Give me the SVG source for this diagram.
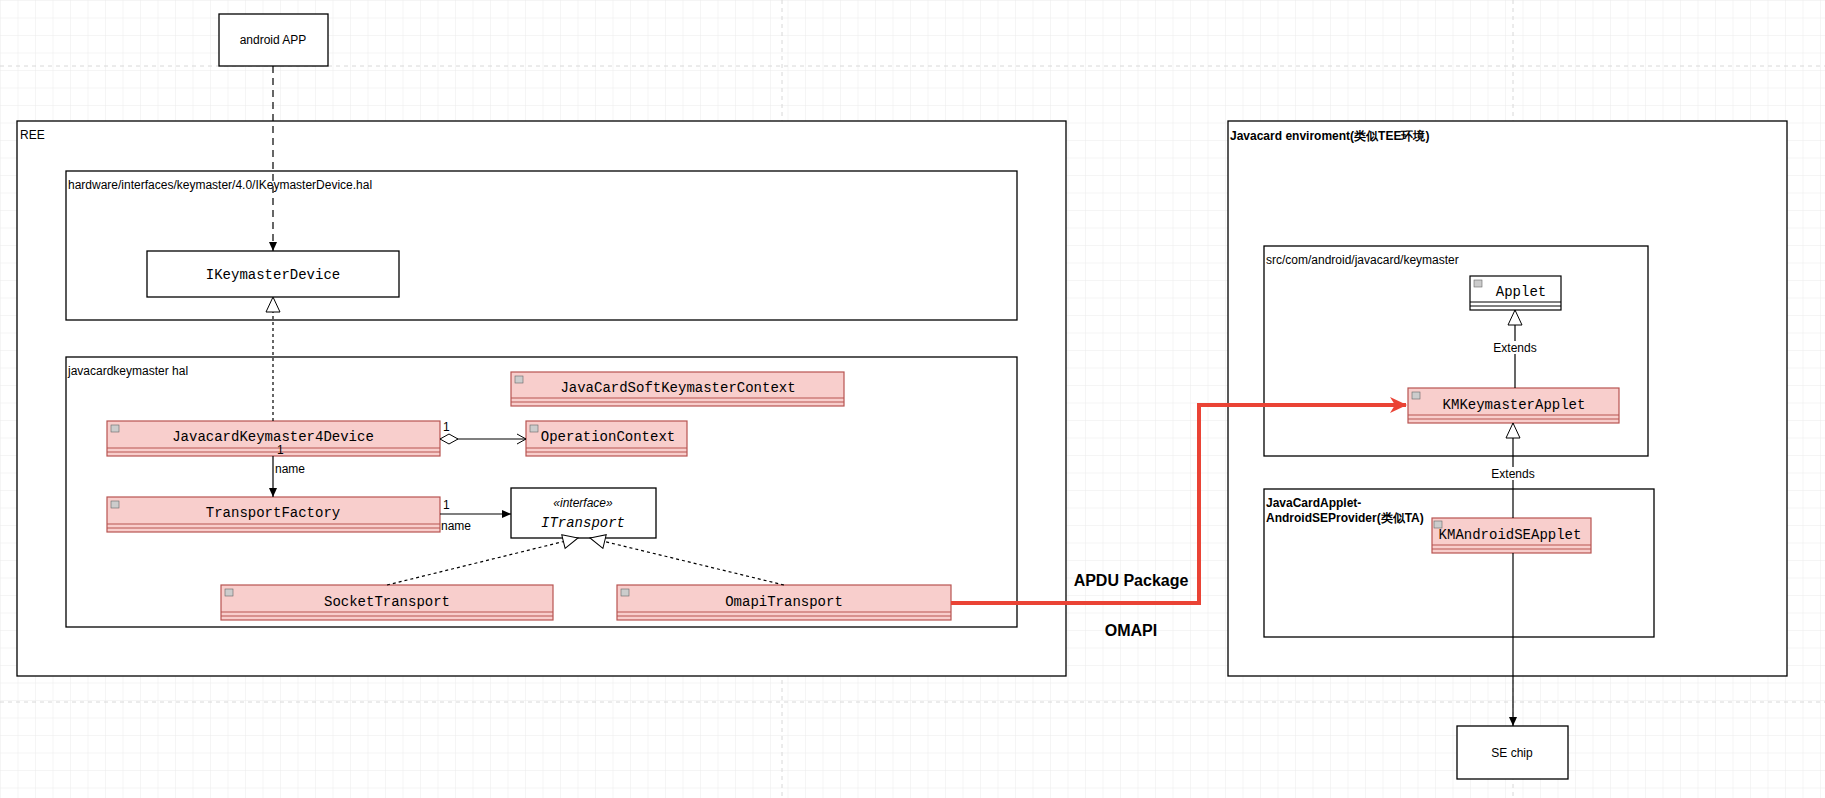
<svg xmlns="http://www.w3.org/2000/svg" width="1825" height="798" viewBox="0 0 1825 798">
<defs>
<pattern id="g" width="17.5" height="17.5" patternUnits="userSpaceOnUse"><path d="M17.5 0H0V17.5" fill="none" stroke="#ececec" stroke-width="1"/></pattern>
<marker id="open" markerWidth="12" markerHeight="12" refX="10" refY="6" orient="auto" markerUnits="userSpaceOnUse"><path d="M1 1L10 6L1 11" fill="none" stroke="#000"/></marker>
<marker id="fill" markerWidth="12" markerHeight="12" refX="10" refY="6" orient="auto" markerUnits="userSpaceOnUse"><path d="M1 2L10 6L1 10Z" fill="#000"/></marker>
<marker id="tri" markerWidth="18" markerHeight="18" refX="16" refY="8" orient="auto" markerUnits="userSpaceOnUse"><path d="M1 1L16 8L1 15Z" fill="#fff" stroke="#000"/></marker>
<marker id="dia" markerWidth="22" markerHeight="12" refX="1" refY="6" orient="auto" markerUnits="userSpaceOnUse"><path d="M1 6L10 1L19 6L10 11Z" fill="#fff" stroke="#000"/></marker>
<marker id="red" markerWidth="20" markerHeight="20" refX="16" refY="9" orient="auto" markerUnits="userSpaceOnUse"><path d="M0 1L17 9L0 17L5 9Z" fill="#ea4335"/></marker>
</defs>
<style>
.box{fill:#fff;stroke:#000;stroke-width:1.3}
.cls{fill:#f8cecc;stroke:#b85450;stroke-width:1.2}
.ln{stroke:#b85450;stroke-width:1.2}
.t{font-family:"Liberation Sans",Arial,sans-serif;font-size:12px;fill:#000}
.m{font-family:"Liberation Mono","DejaVu Sans Mono",monospace;font-size:14px;fill:#000;text-anchor:middle}
.c{stroke:#000;fill:none;stroke-width:1.2}
.b{font-family:"Liberation Sans",Arial,sans-serif;font-size:16px;font-weight:bold;text-anchor:middle}
</style>
<rect width="1825" height="798" fill="#fff"/>
<rect width="1825" height="798" fill="url(#g)"/>
<g stroke="#d8d8d8" stroke-dasharray="4 4" fill="none"><path d="M782 0V798M1513 0V798M0 66H1825M0 702H1825"/></g>

<g id="ree"><rect class="box" x="17" y="121" width="1049" height="555"/><text class="t" x="20" y="139">REE</text></g>
<g id="hw"><rect class="box" x="66" y="171" width="951" height="149"/><text class="t" x="68" y="189">hardware/interfaces/keymaster/4.0/IKeymasterDevice.hal</text></g>
<g id="hal"><rect class="box" x="66" y="357" width="951" height="270"/><text class="t" x="68" y="375">javacardkeymaster hal</text></g>
<g id="env"><rect class="box" x="1228" y="121" width="559" height="555"/><text class="t" x="1230" y="140" font-weight="bold" font-family="'Liberation Sans','Noto Sans CJK SC',sans-serif">Javacard enviroment(类似TEE环境)</text></g>
<g id="src"><rect class="box" x="1264" y="246" width="384" height="210"/><text class="t" x="1266" y="264">src/com/android/javacard/keymaster</text></g>
<g id="ta"><rect class="box" x="1264" y="489" width="390" height="148"/><text class="t" x="1266" y="507" font-weight="bold" font-family="'Liberation Sans','Noto Sans CJK SC',sans-serif">JavaCardApplet-</text><text class="t" x="1266" y="522" font-weight="bold" font-family="'Liberation Sans','Noto Sans CJK SC',sans-serif">AndroidSEProvider(类似TA)</text></g>

<g id="app"><rect class="box" x="219" y="14" width="109" height="52"/><text class="t" x="273" y="44" text-anchor="middle">android APP</text></g>
<g id="ikd"><rect class="box" x="147" y="251" width="252" height="46"/><text class="m" x="273" y="279">IKeymasterDevice</text></g>
<g id="se"><rect class="box" x="1457" y="726" width="111" height="53"/><text class="t" x="1512" y="757" text-anchor="middle">SE chip</text></g>
<g id="itr"><rect class="box" x="511" y="488" width="145" height="50"/><text class="t" x="583" y="507" text-anchor="middle" font-style="italic" font-size="10">«interface»</text><text class="m" x="583" y="527" font-style="italic">ITransport</text></g>

<g id="soft"><rect class="cls" x="511" y="372" width="333" height="34"/><path class="ln" d="M511 398H844M511 402H844"/><rect x="515" y="376" width="8" height="7" fill="#ccc" stroke="#666" stroke-width=".6"/><text class="m" x="678" y="392">JavaCardSoftKeymasterContext</text></g>
<g id="dev"><rect class="cls" x="107" y="421" width="333" height="35"/><path class="ln" d="M107 448H440M107 452H440"/><rect x="111" y="425" width="8" height="7" fill="#ccc" stroke="#666" stroke-width=".6"/><text class="m" x="273" y="441">JavacardKeymaster4Device</text></g>
<g id="op"><rect class="cls" x="526" y="421" width="161" height="35"/><path class="ln" d="M526 448H687M526 452H687"/><rect x="530" y="425" width="8" height="7" fill="#ccc" stroke="#666" stroke-width=".6"/><text class="m" x="608" y="441">OperationContext</text></g>
<g id="tf"><rect class="cls" x="107" y="497" width="333" height="35"/><path class="ln" d="M107 524H440M107 528H440"/><rect x="111" y="501" width="8" height="7" fill="#ccc" stroke="#666" stroke-width=".6"/><text class="m" x="273" y="517">TransportFactory</text></g>
<g id="sock"><rect class="cls" x="221" y="585" width="332" height="35"/><path class="ln" d="M221 612H553M221 616H553"/><rect x="225" y="589" width="8" height="7" fill="#ccc" stroke="#666" stroke-width=".6"/><text class="m" x="387" y="606">SocketTransport</text></g>
<g id="omapi"><rect class="cls" x="617" y="585" width="334" height="35"/><path class="ln" d="M617 612H951M617 616H951"/><rect x="621" y="589" width="8" height="7" fill="#ccc" stroke="#666" stroke-width=".6"/><text class="m" x="784" y="606">OmapiTransport</text></g>
<g id="applet"><rect x="1470" y="276" width="91" height="34" fill="#fff" stroke="#000" stroke-width="1.2"/><path d="M1470 302H1561M1470 306H1561" stroke="#000"/><rect x="1474" y="280" width="8" height="7" fill="#ccc" stroke="#666" stroke-width=".6"/><text class="m" x="1521" y="296">Applet</text></g>
<g id="kmk"><rect class="cls" x="1408" y="388" width="211" height="35"/><path class="ln" d="M1408 415H1619M1408 419H1619"/><rect x="1412" y="392" width="8" height="7" fill="#ccc" stroke="#666" stroke-width=".6"/><text class="m" x="1514" y="409">KMKeymasterApplet</text></g>
<g id="kmse"><rect class="cls" x="1432" y="518" width="159" height="35"/><path class="ln" d="M1432 545H1591M1432 549H1591"/><rect x="1434" y="521" width="8" height="7" fill="#ccc" stroke="#666" stroke-width=".6"/><text class="m" x="1510" y="539">KMAndroidSEApplet</text></g>

<g id="connectors">
<path class="c" d="M273 66V251" stroke-dasharray="7 5" marker-end="url(#fill)"/>
<path class="c" d="M273 421V297" stroke-dasharray="3 3" marker-end="url(#tri)"/>
<path class="c" d="M273 456V497" marker-end="url(#fill)"/>
<path class="c" d="M440 439H526" marker-start="url(#dia)" marker-end="url(#open)"/>
<path class="c" d="M440 514H511" marker-end="url(#fill)"/>
<path class="c" d="M387 585L578 538" stroke-dasharray="3 3" marker-end="url(#tri)"/>
<path class="c" d="M784 585L590 538" stroke-dasharray="3 3" marker-end="url(#tri)"/>
<path class="c" d="M1515 388V310" marker-end="url(#tri)"/>
<path class="c" d="M1513 518V423" marker-end="url(#tri)"/>
<path class="c" d="M1513 553V726" marker-end="url(#fill)"/>
<path d="M951 603H1199V405H1406" fill="none" stroke="#ea4335" stroke-width="4" marker-end="url(#red)"/>
<rect x="1494" y="341" width="42" height="13" fill="#fff"/><text class="t" x="1515" y="352" text-anchor="middle" font-size="11">Extends</text>
<rect x="1492" y="467" width="42" height="13" fill="#fff"/><text class="t" x="1513" y="478" text-anchor="middle" font-size="11">Extends</text>
<text class="t" x="277" y="454" font-size="11">1</text>
<text class="t" x="275" y="473" font-size="11">name</text>
<text class="t" x="443" y="431" font-size="11">1</text>
<text class="t" x="443" y="509" font-size="11">1</text>
<text class="t" x="441" y="530" font-size="11">name</text>
<text class="b" x="1131" y="586">APDU Package</text>
<text class="b" x="1131" y="636">OMAPI</text>
</g>
</svg>
